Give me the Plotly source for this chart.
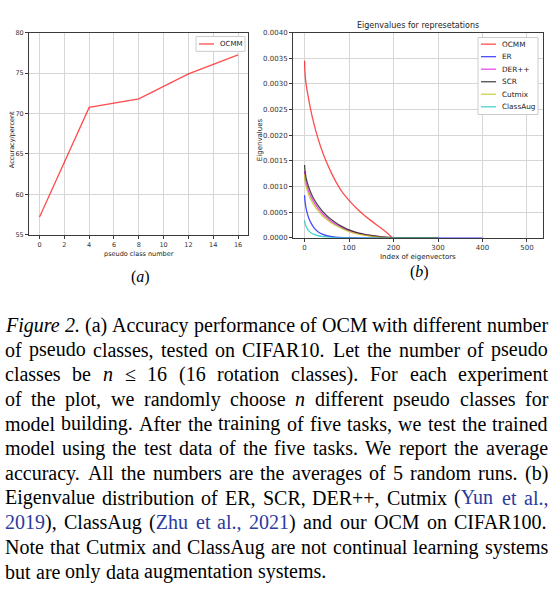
import re
import plotly.graph_objects as go

W, H = 559, 593

# (a) accuracy of OCM vs number of pseudo classes (CIFAR10)
pseudo_n = [0, 4, 8, 12, 16]
acc_ocmm = [57.2, 70.75, 71.8, 74.9, 77.25]

# (b) eigenvalue spectra on CIFAR100
ocmm_idx = [0, 1, 3, 8, 13, 20, 26, 36, 48, 60, 70, 84, 100, 115, 130, 150, 170, 185, 197]
ocmm_val = [3.45e-3, 3.22e-3, 3.02e-3, 2.76e-3, 2.53e-3, 2.26e-3, 2.06e-3, 1.78e-3, 1.50e-3, 1.27e-3,
            1.10e-3, 0.90e-3, 0.73e-3, 0.59e-3, 0.47e-3, 0.33e-3, 0.20e-3, 0.10e-3, 0.0]
er_idx = [0, 1, 3, 6, 10, 15, 20, 30, 40, 50, 70, 100, 150, 250, 400]
er_val = [0.83e-3, 0.72e-3, 0.60e-3, 0.48e-3, 0.37e-3, 0.28e-3, 0.21e-3, 0.12e-3, 0.07e-3, 0.04e-3,
          0.015e-3, 0.003e-3, 0.0, 0.0, 0.0]
mid_idx = [0, 1, 3, 6, 10, 15, 20, 30, 40, 50, 60, 75, 90, 100, 120, 150, 180, 220, 300]
derpp_val = [1.30e-3, 1.20e-3, 1.09e-3, 0.99e-3, 0.89e-3, 0.79e-3, 0.71e-3, 0.58e-3, 0.475e-3, 0.39e-3,
             0.32e-3, 0.24e-3, 0.175e-3, 0.14e-3, 0.085e-3, 0.04e-3, 0.012e-3, 0.0, 0.0]
scr_val = [1.42e-3, 1.31e-3, 1.19e-3, 1.08e-3, 0.97e-3, 0.86e-3, 0.77e-3, 0.63e-3, 0.52e-3, 0.43e-3,
           0.355e-3, 0.265e-3, 0.195e-3, 0.155e-3, 0.095e-3, 0.045e-3, 0.015e-3, 0.0, 0.0]
cutmix_val = [1.24e-3, 1.12e-3, 1.02e-3, 0.92e-3, 0.82e-3, 0.73e-3, 0.65e-3, 0.53e-3, 0.43e-3, 0.355e-3,
              0.29e-3, 0.215e-3, 0.155e-3, 0.12e-3, 0.07e-3, 0.03e-3, 0.008e-3, 0.0, 0.0]
aug_idx = [0, 1, 3, 6, 10, 15, 20, 30, 40, 60, 100, 200, 300]
classaug_val = [0.34e-3, 0.29e-3, 0.23e-3, 0.18e-3, 0.13e-3, 0.095e-3, 0.07e-3, 0.04e-3, 0.025e-3,
                0.008e-3, 0.0, 0.0, 0.0]

names = ["OCMM", "ER", "DER++", "SCR", "Cutmix", "ClassAug"]
colors = ["rgba(255,0,0,0.7)", "rgba(0,0,255,0.7)", "rgba(230,0,230,0.7)",
          "rgba(0,0,0,0.7)", "rgba(191,191,0,0.7)", "rgba(0,191,191,0.7)"]

caption = [
    "*Figure* *2.* (a) Accuracy performance of OCM with different number",
    "of pseudo classes, tested on CIFAR10. Let the number of pseudo",
    "classes be *n* ≤ 16 (16 rotation classes). For each experiment",
    "of the plot, we randomly choose *n* different pseudo classes for",
    "model building. After the training of five tasks, we test the trained",
    "model using the test data of the five tasks. We report the average",
    "accuracy. All the numbers are the averages of 5 random runs. (b)",
    "Eigenvalue distribution of ER, SCR, DER++, Cutmix ({Yun} {et} {al.,}",
    "{2019}), ClassAug ({Zhu} {et} {al.,} {2021}) and our OCM on CIFAR100.",
    "Note that Cutmix and ClassAug are not continual learning systems",
    "but are only data augmentation systems.",
]


def fx(px):
    return px / W


def fy(py):
    return 1 - py / H


fig = go.Figure()
fig.add_trace(go.Scatter(x=pseudo_n, y=acc_ocmm, mode="lines", line=dict(color=colors[0], width=1.3),
                         xaxis="x", yaxis="y", showlegend=False))
series = [(ocmm_idx, ocmm_val), (er_idx, er_val), (mid_idx, derpp_val),
          (mid_idx, scr_val), (mid_idx, cutmix_val), (aug_idx, classaug_val)]
for (xs, ys), name, c in zip(series, names, colors):
    fig.add_trace(go.Scatter(x=xs, y=ys, name=name, mode="lines",
                             line=dict(color=c, width=1.3, shape="spline", smoothing=0.8),
                             xaxis="x2", yaxis="y2", showlegend=False))

axis = dict(showline=True, mirror=True, linecolor="#3a3a3a", linewidth=1, ticks="outside",
            ticklen=3, tickwidth=1, tickcolor="#3a3a3a", showgrid=True, gridcolor="#d6d6d6",
            gridwidth=1, zeroline=False)
tf_a = dict(family="DejaVu Sans", size=6.5, color="#333")
tf_b = dict(family="DejaVu Sans", size=7, color="#333")

fig.update_layout(
    width=W, height=H, autosize=False,
    margin=dict(l=0, r=0, t=0, b=0),
    paper_bgcolor="white", plot_bgcolor="white",
    showlegend=False,
    xaxis=dict(axis, domain=[fx(29), fx(248)], range=[-0.85, 16.8], tickvals=list(range(0, 17, 2)),
               anchor="y", tickfont=tf_a),
    yaxis=dict(axis, domain=[fy(234), fy(29)], range=[55, 80], dtick=5, anchor="x", tickfont=tf_a),
    xaxis2=dict(axis, domain=[fx(293), fx(543)], range=[-26, 536], dtick=100, anchor="y2",
                tickfont=tf_b),
    yaxis2=dict(axis, domain=[fy(237), fy(29)], range=[0, 0.004], dtick=0.0005, tickformat=".4f",
                anchor="x2", tickfont=tf_b),
)

ann = []
shapes = []


def text(s, px, py, size, xanchor="center", family="DejaVu Sans", color="#222", angle=0):
    ann.append(dict(text=s, x=fx(px), y=fy(py), xref="paper", yref="paper", showarrow=False,
                    xanchor=xanchor, yanchor="middle", textangle=angle, borderpad=0,
                    font=dict(family=family, size=size, color=color)))


# titles and axis labels
text("Eigenvalues for represetations", 418, 21.5, 8)
text("pseudo class number", 138.5, 253, 6.5)
text("Index of eigenvectors", 418, 256.5, 7)
text("Accuracy/percent", 12, 138, 6.5, angle=-90)
text("Eigenvalues", 259.5, 137.5, 7, angle=-90)
text("(<i>a</i>)", 140, 276.5, 16, family="Liberation Serif", color="black")
text("(<i>b</i>)", 419, 271.5, 16, family="Liberation Serif", color="black")


# matplotlib-like legend boxes
def legend_box(items, cols, x0, y0, x1, y1, row0, step, size):
    shapes.append(dict(type="rect", xref="paper", yref="paper", x0=fx(x0), x1=fx(x1), y0=fy(y1),
                       y1=fy(y0), line=dict(color="#cccccc", width=1), fillcolor="white"))
    for i, (n, c) in enumerate(zip(items, cols)):
        yc = row0 + i * step
        shapes.append(dict(type="line", xref="paper", yref="paper", x0=fx(x0 + 3), x1=fx(x0 + 18),
                           y0=fy(yc), y1=fy(yc), line=dict(color=c, width=1.3)))
        text(n, x0 + 23, yc, size, xanchor="left")


legend_box(names[:1], colors[:1], 196, 33, 245, 48, 40.5, 12.7, 7)
legend_box(names, colors, 478, 34, 538, 112, 40.7, 12.7, 7.3)

# caption, justified word by word using Times metrics
TIMES = {" ": 250, "a": 444, "b": 500, "c": 444, "d": 500, "e": 444, "f": 333, "g": 500, "h": 500,
         "i": 278, "j": 278, "k": 500, "l": 278, "m": 778, "n": 500, "o": 500, "p": 500, "q": 500,
         "r": 333, "s": 389, "t": 278, "u": 500, "v": 500, "w": 722, "x": 500, "y": 500, "z": 444,
         "A": 722, "B": 667, "C": 667, "D": 722, "E": 611, "F": 556, "G": 722, "H": 722, "I": 333,
         "J": 389, "K": 722, "L": 611, "M": 889, "N": 722, "O": 722, "P": 556, "Q": 722, "R": 667,
         "S": 556, "T": 611, "U": 722, "V": 722, "W": 944, "X": 722, "Y": 722, "Z": 611,
         ".": 250, ",": 250, "(": 333, ")": 333, "+": 564, "≤": 549, "/": 278}
ITALIC = {"F": 611, "r": 389}
CAP_SIZE = 20
LEFT, RIGHT = 4, 547
BLUE = "#2b3b9e"


def word_parts(w):
    width = 0
    html = ""
    for seg in re.findall(r"\*[^*]+\*|\{[^}]+\}|[^*{}]+", w):
        if seg[0] == "*":
            s = seg[1:-1]
            width += sum(ITALIC.get(ch, TIMES.get(ch, 500)) for ch in s)
            html += "<i>" + s + "</i>"
        elif seg[0] == "{":
            s = seg[1:-1]
            width += sum(TIMES.get(ch, 500) for ch in s)
            html += '<span style="color:' + BLUE + '">' + s + "</span>"
        else:
            width += sum(TIMES.get(ch, 500) for ch in seg)
            html += seg
    return width * CAP_SIZE / 1000, html


for i, line in enumerate(caption):
    words = [word_parts(w) for w in line.split(" ")]
    total = sum(wd for wd, _ in words)
    if i < len(caption) - 1:
        gap = (RIGHT - LEFT - total) / (len(words) - 1)
    else:
        gap = TIMES[" "] * CAP_SIZE / 1000
    x = LEFT
    yc = 325.5 + 25 * i
    for wd, html in words:
        text(html, x, yc, CAP_SIZE, xanchor="left", family="Liberation Serif", color="black")
        x += wd + gap

fig.update_layout(annotations=ann, shapes=shapes)
# the page body has an 8px default margin; drop it so the figure fills the window
fig.write_html("out.html", config={"displayModeBar": False},
               post_script="document.body.style.margin='0';")
